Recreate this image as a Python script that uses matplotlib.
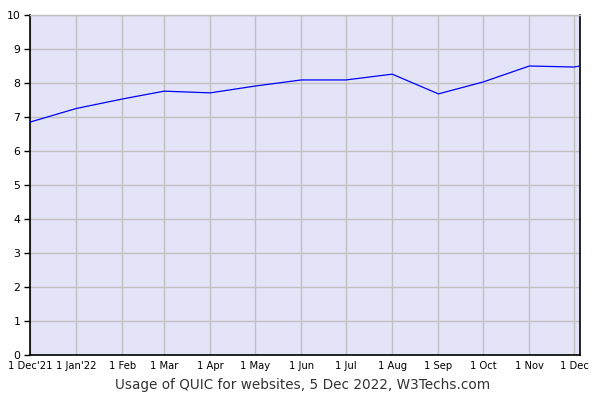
import matplotlib
matplotlib.use("Agg")
import matplotlib.pyplot as plt
import matplotlib.dates as mdates
import numpy as np
import datetime as dt

dates = ["2021-12-01", "2022-01-01", "2022-02-01", "2022-03-01", "2022-04-01", "2022-05-01",
         "2022-06-01", "2022-07-01", "2022-08-01", "2022-09-01", "2022-10-01", "2022-11-01",
         "2022-12-01", "2022-12-05"]
values = [6.85, 7.25, 7.53, 7.76, 7.71, 7.91, 8.09, 8.09, 8.26, 7.68, 8.03, 8.5, 8.47, 8.5]
tick_dates = ["2021-12-01", "2022-01-01", "2022-02-01", "2022-03-01", "2022-04-01", "2022-05-01",
              "2022-06-01", "2022-07-01", "2022-08-01", "2022-09-01", "2022-10-01", "2022-11-01",
              "2022-12-01"]
tick_labels = ["1 Dec'21", "1 Jan'22", "1 Feb", "1 Mar", "1 Apr", "1 May", "1 Jun", "1 Jul",
               "1 Aug", "1 Sep", "1 Oct", "1 Nov", "1 Dec"]
y_ticks = list(range(0, 11))
caption = "Usage of QUIC for websites, 5 Dec 2022, W3Techs.com"

plt.rcParams['font.family'] = ['DejaVu Sans']

x = [dt.datetime.strptime(d, "%Y-%m-%d") for d in dates]
xt = [dt.datetime.strptime(d, "%Y-%m-%d") for d in tick_dates]

fig = plt.figure(figsize=(6, 4), dpi=100)
ax = fig.add_axes([0.05, 0.1125, 0.9167, 0.85])
ax.set_facecolor("#E4E4F8")
ax.plot(x, values, color="#0000FF", linewidth=0.9, zorder=3)
ax.set_xlim(x[0], x[-1])
ax.set_ylim(0, 10)
ax.set_yticks(y_ticks)
ax.set_yticklabels([str(v) for v in y_ticks], fontsize=7.8)
ax.set_xticks(xt)
ax.set_xticklabels(tick_labels, fontsize=7.2)
ax.tick_params(axis='x', length=0, pad=4)
ax.tick_params(axis='y', length=4, width=1, pad=3)
ax.grid(True, color="#C0C0C0", linewidth=1, zorder=1)
ax.set_axisbelow(True)
for s in ["left", "bottom", "right"]:
    ax.spines[s].set_color("black")
    ax.spines[s].set_linewidth(1.2)
ax.spines["top"].set_color("#C0C0C0")
ax.spines["top"].set_linewidth(1)

fig.text(0.505, 0.0375, caption, ha="center", va="center", fontsize=9.8, color="#333333")

fig.savefig("out.png", dpi=100)
